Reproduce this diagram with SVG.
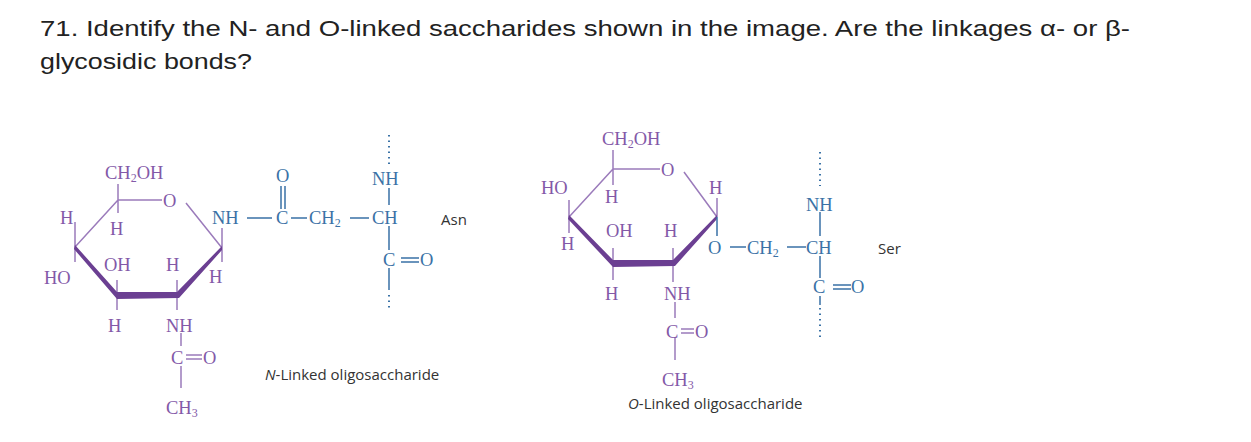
<svg xmlns="http://www.w3.org/2000/svg" width="1251" height="442" viewBox="0 0 1251 442">
<style>
.t{font-family:"Liberation Sans",Arial,sans-serif;font-size:22px;fill:#222}
.p{font-family:"Liberation Serif",serif;font-size:18.5px;fill:#8359a8}
.b{font-family:"Liberation Serif",serif;font-size:18.5px;fill:#3a72a6}
.l{font-family:"Open Sans",sans-serif;font-size:15px;fill:#333}
.pl{stroke:#9b7bbb;stroke-width:1.5;fill:none}
.bl{stroke:#3a72a6;stroke-width:1.5;fill:none}
.dt{stroke:#3a72a6;stroke-width:2;stroke-dasharray:1.5 4;fill:none}
.thick{fill:#6b3f92}
</style>
<rect width="1251" height="442" fill="#fff"/>
<text class="t" x="40" y="36" textLength="1090" lengthAdjust="spacingAndGlyphs">71. Identify the N- and O-linked saccharides shown in the image. Are the linkages α- or β-</text>
<text class="t" x="40" y="69" textLength="212" lengthAdjust="spacingAndGlyphs">glycosidic bonds?</text>

<g id="n-linked">
<path class="pl" d="M118,200 L162,200 M186,203 L222,248 M118,200 L75,247 M118,200 V213 M75,247 V222 M75,247 V262 M222,248 V262 M222,248 V228 M117,295 V280 M177,295 V280 M117,295 V310 M177,295 V310 M181,333 V346 M181,366 V388 M118,184 V200"/>
<polygon class="thick" points="75,245 117,292 177,292 222,246 222,250 179,298 117,299 74,249"/>
<text class="p" x="105" y="179">CH<tspan font-size="12" dy="3">2</tspan><tspan dy="-3">OH</tspan></text>
<text class="p" x="163" y="207">O</text>
<text class="p" x="60" y="224">H</text>
<text class="p" x="110" y="235">H</text>
<text class="p" x="44" y="284">HO</text>
<text class="p" x="104" y="271">OH</text>
<text class="p" x="166" y="271">H</text>
<text class="p" x="209" y="283">H</text>
<text class="p" x="108" y="332">H</text>
<text class="p" x="166" y="332">NH</text>
<text class="p" x="171" y="364">C</text>
<text class="p" x="203" y="364">O</text>
<path class="pl" d="M186,355 H202 M186,359 H202"/>
<text class="p" x="166" y="414">CH<tspan font-size="12" dy="3">3</tspan></text>
</g>

<g id="asn">
<path class="bl" d="M247,218 H272 M291,218 H307 M350,218 H369 M281,186 V209 M285,186 V209 M389,188 V205 M389,226 V250 M401,258 H419 M401,262 H419 M389,268 V290"/>
<path class="dt" d="M389,135 V168 M389,295 V310"/>
<text class="b" x="212" y="224">NH</text>
<text class="b" x="276" y="224">C</text>
<text class="b" x="276" y="182">O</text>
<text class="b" x="309" y="224">CH<tspan font-size="12" dy="3">2</tspan></text>
<text class="b" x="372" y="224">CH</text>
<text class="b" x="372" y="185">NH</text>
<text class="b" x="383" y="266">C</text>
<text class="b" x="420" y="266">O</text>
<text class="l" x="441" y="225">Asn</text>
<text class="l" x="265" y="380"><tspan font-style="italic">N</tspan>-Linked oligosaccharide</text>
</g>

<g id="o-linked">
<path class="pl" d="M613,169 L660,169 M684,172 L717,217 M613,169 V185 M613,150 V169 M613,169 L569,217 M569,217 V200 M569,217 V233 M717,217 V198 M613,263 V248 M673,263 V248 M613,263 V280 M673,263 V282 M675,302 V318 M675,338 V360"/>
<polygon class="thick" points="569,215 613,260 673,260 717,215 717,219 675,266 613,267 568,219"/>
<text class="p" x="602" y="145">CH<tspan font-size="12" dy="3">2</tspan><tspan dy="-3">OH</tspan></text>
<text class="p" x="661" y="176">O</text>
<text class="p" x="541" y="194">HO</text>
<text class="p" x="605" y="203">H</text>
<text class="p" x="709" y="194">H</text>
<text class="p" x="561" y="250">H</text>
<text class="p" x="606" y="237">OH</text>
<text class="p" x="664" y="237">H</text>
<text class="p" x="605" y="300">H</text>
<text class="p" x="664" y="300">NH</text>
<text class="p" x="666" y="338">C</text>
<path class="pl" d="M681,329 H694 M681,333 H694"/>
<text class="p" x="695" y="338">O</text>
<text class="p" x="662" y="386">CH<tspan font-size="12" dy="3">3</tspan></text>
</g>

<g id="ser">
<path class="bl" d="M717,217 V236 M730,247 H746 M787,247 H806 M820,212 V236 M820,256 V278 M833,285 H851 M833,289 H851 M820,296 V305"/>
<path class="dt" d="M820,152 V186 M820,308 V337"/>
<text class="b" x="708" y="254">O</text>
<text class="b" x="747" y="254">CH<tspan font-size="12" dy="3">2</tspan></text>
<text class="b" x="806" y="254">CH</text>
<text class="b" x="806" y="211">NH</text>
<text class="b" x="813" y="293">C</text>
<text class="b" x="851" y="293">O</text>
<text class="l" x="878" y="254">Ser</text>
<text class="l" x="628" y="409"><tspan font-style="italic">O</tspan>-Linked oligosaccharide</text>
</g>
</svg>
